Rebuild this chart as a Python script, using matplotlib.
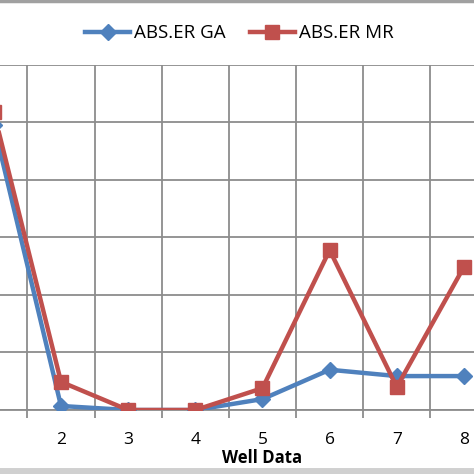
import matplotlib.pyplot as plt
from matplotlib.lines import Line2D
import numpy as np

# well numbers and absolute errors
wells = [1, 2, 3, 4, 5, 6, 7, 8]
abs_er_ga = [4.96, 0.07, 0.0, 0.0, 0.19, 0.70, 0.59, 0.59]
abs_er_mr = [5.18, 0.49, 0.0, 0.0, 0.38, 2.78, 0.40, 2.49]

blue = '#4F81BD'
red = '#C0504D'
grid_col = '#8C8C8C'

fig = plt.figure(figsize=(4.74, 4.74), dpi=100)
ax = fig.add_axes([0, 0.135, 1, 0.728])

ax.plot(wells, abs_er_ga, color=blue, lw=3.2, marker='D', ms=8.5, label='ABS.ER GA', zorder=3)
ax.plot(wells, abs_er_mr, color=red, lw=3.2, marker='s', ms=10, label='ABS.ER MR', zorder=4)

# category boundaries carry the vertical grid and tick marks
ax.set_xticks(wells)
ax.set_xticks(np.arange(0.5, 9.0, 1.0), minor=True)
ax.set_yticks(np.arange(0, 7, 1))
ax.set_yticklabels([])
ax.set_xlim(1.092, 8.149)
ax.set_ylim(0, 6)
ax.tick_params(axis='x', which='major', length=0, pad=16, labelsize=12.5)
ax.tick_params(axis='x', which='minor', length=6, width=1.3, color=grid_col)
ax.tick_params(axis='y', length=0)
ax.grid(True, axis='x', which='minor', color=grid_col, lw=1.3)
ax.grid(True, axis='y', which='major', color=grid_col, lw=1.3)
ax.set_axisbelow(True)
for lab in ax.get_xticklabels():
    lab.set_fontfamily('Open Sans')

for s in ['left', 'right', 'top']:
    ax.spines[s].set_visible(False)
ax.spines['bottom'].set_color(grid_col)
ax.spines['bottom'].set_linewidth(1.3)

xl = ax.set_xlabel('Well Data', fontsize=12, fontweight='bold', family='Open Sans')
xl.set_verticalalignment('center')
ax.xaxis.set_label_coords((5 - 1.092) / (8.149 - 1.092), -0.14)

# legend above the plot area
handles = [Line2D([], [], color=blue, lw=3.2, marker='D', ms=8.5),
           Line2D([], [], color=red, lw=3.2, marker='s', ms=10)]
fig.legend(handles, ['ABS.ER GA', 'ABS.ER MR'], loc='center', bbox_to_anchor=(0.505, 0.93),
           ncol=2, frameon=False, handlelength=2.4, handletextpad=0.2,
           columnspacing=1.3, prop={'family': 'Open Sans', 'size': 13.5})

# chart area borders visible at the top and bottom of the crop
fig.add_artist(Line2D([0, 1], [0.998, 0.998], color='#A0A0A0', lw=2.5, transform=fig.transFigure))
fig.add_artist(Line2D([0, 1], [0.006, 0.006], color='#D0D0D0', lw=5, transform=fig.transFigure))

fig.savefig('out.png', dpi=100)
